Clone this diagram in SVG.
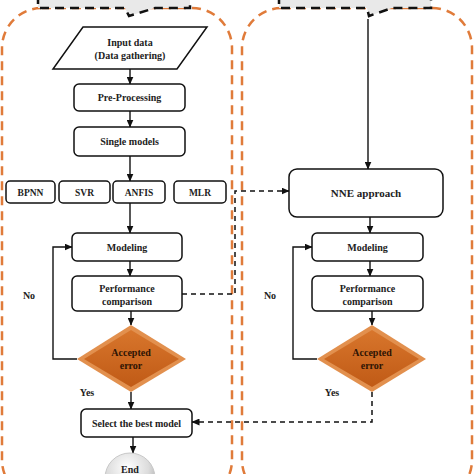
<svg xmlns="http://www.w3.org/2000/svg" width="474" height="474" viewBox="0 0 474 474">
<style>
.box{fill:#fff;stroke:#111;stroke-width:1.5}
.t{font-family:"Liberation Serif","Times New Roman",serif;font-weight:bold;font-size:10px;fill:#222;text-anchor:middle}
.dt{font-family:"Liberation Serif","Times New Roman",serif;font-weight:bold;font-size:10px;fill:#2e1404;text-anchor:middle}
.cont{fill:none;stroke:#E07B3A;stroke-width:2.5;stroke-dasharray:9 6}
.callout{fill:#e9e9e9;stroke:#111;stroke-width:2.5;stroke-dasharray:9 6}
.line{fill:none;stroke:#111;stroke-width:1.4}
.dash{fill:none;stroke:#111;stroke-width:1.5;stroke-dasharray:5 4}
</style>
<defs>
<marker id="arr" markerWidth="8" markerHeight="7" refX="7.5" refY="3.5" orient="auto" markerUnits="userSpaceOnUse">
<path d="M0,0 L8,3.5 L0,7 z" fill="#111"/>
</marker>
<linearGradient id="dia" x1="0" y1="0" x2="0" y2="1">
<stop offset="0" stop-color="#D8762C"/>
<stop offset="1" stop-color="#C05A16"/>
</linearGradient>
<radialGradient id="sph" cx="0.45" cy="0.3" r="0.7">
<stop offset="0" stop-color="#ffffff"/>
<stop offset="0.6" stop-color="#dcdcdc"/>
<stop offset="1" stop-color="#a9a9a9"/>
</radialGradient>
</defs>

<g id="containers">
<rect class="cont" x="2" y="8" width="230" height="492" rx="40"/>
<rect class="cont" x="242" y="8" width="230" height="492" rx="40"/>
</g>

<g id="callouts">
<path class="callout" d="M38,-20 V8 H125 L129,16 L155,8 H190 V-20"/>
<path class="callout" d="M279,-20 V8 H367 L369,16 L392,8 H431 V-20"/>
</g>

<g id="connectors">
<line class="line" x1="130" y1="69" x2="130" y2="84" marker-end="url(#arr)"/>
<line class="line" x1="130" y1="111" x2="130" y2="127" marker-end="url(#arr)"/>
<line class="line" x1="130" y1="156" x2="130" y2="181" marker-end="url(#arr)"/>
<line class="line" x1="130" y1="203" x2="130" y2="233" marker-end="url(#arr)"/>
<line class="line" x1="130" y1="261" x2="130" y2="276" marker-end="url(#arr)"/>
<line class="line" x1="131" y1="311" x2="131" y2="325" marker-end="url(#arr)"/>
<polyline class="line" points="77,359 53,359 53,247 72,247" marker-end="url(#arr)"/>
<line class="line" x1="131" y1="392" x2="131" y2="409" marker-end="url(#arr)"/>
<line class="line" x1="133" y1="437" x2="133" y2="453" marker-end="url(#arr)"/>
<line class="line" x1="368" y1="19" x2="368" y2="169" marker-end="url(#arr)"/>
<line class="line" x1="370" y1="217" x2="370" y2="233" marker-end="url(#arr)"/>
<line class="line" x1="370" y1="261" x2="370" y2="276" marker-end="url(#arr)"/>
<line class="line" x1="372" y1="311" x2="372" y2="325" marker-end="url(#arr)"/>
<polyline class="line" points="317,359 293,359 293,247 312,247" marker-end="url(#arr)"/>
<polyline class="dash" points="182,294 235,294 235,191 289,191" marker-end="url(#arr)"/>
<polyline class="dash" points="372,392 372,422 192,422" marker-end="url(#arr)"/>
</g>

<g id="input">
<polygon class="box" points="83,27 207,27 177,69 53,69"/>
<text class="t" x="130" y="45.5">Input data</text>
<text class="t" x="130" y="58.5">(Data gathering)</text>
</g>
<g id="preprocessing">
<rect class="box" x="74" y="84" width="111" height="27" rx="5"/>
<text class="t" x="129.5" y="101">Pre-Processing</text>
</g>
<g id="singlemodels">
<rect class="box" x="74" y="127" width="111" height="29" rx="5"/>
<text class="t" x="129.5" y="144.5">Single models</text>
</g>
<g id="bpnn">
<rect class="box" x="6" y="181" width="49" height="22" rx="4"/>
<text class="t" x="30.5" y="195.5" style="font-size:9.5px">BPNN</text>
</g>
<g id="svr">
<rect class="box" x="59" y="181" width="51" height="22" rx="4"/>
<text class="t" x="84.5" y="195.5" style="font-size:9.5px">SVR</text>
</g>
<g id="anfis">
<rect class="box" x="113" y="181" width="52" height="22" rx="4"/>
<text class="t" x="139" y="195.5" style="font-size:9.5px">ANFIS</text>
</g>
<g id="mlr">
<rect class="box" x="174" y="181" width="52" height="22" rx="4"/>
<text class="t" x="200" y="195.5" style="font-size:9.5px">MLR</text>
</g>
<g id="modeling1">
<rect class="box" x="72" y="233" width="110" height="28" rx="5"/>
<text class="t" x="127" y="250.5">Modeling</text>
</g>
<g id="perf1">
<rect class="box" x="72" y="276" width="110" height="35" rx="5"/>
<text class="t" x="127" y="291.5">Performance</text>
<text class="t" x="127" y="304.5">comparison</text>
</g>
<g id="decision1">
<polygon points="131,325 186,359 131,392 77,359" fill="#E2904E"/>
<polygon points="131,330 179,359 131,387 84,359" fill="url(#dia)"/>
<text class="dt" x="131" y="356">Accepted</text>
<text class="dt" x="131" y="369">error</text>
</g>
<g id="select">
<rect class="box" x="81" y="409" width="111" height="28" rx="5"/>
<text class="t" x="136.5" y="426.5">Select the best model</text>
</g>
<g id="end">
<circle cx="130" cy="478" r="25" fill="url(#sph)" stroke="#c8c8c8" stroke-width="1"/>
<text class="t" x="130" y="473">End</text>
</g>

<g id="nne">
<rect class="box" x="289" y="169" width="154" height="48" rx="8"/>
<text class="t" x="366" y="197" style="font-size:11px">NNE approach</text>
</g>
<g id="modeling2">
<rect class="box" x="312" y="233" width="111" height="28" rx="5"/>
<text class="t" x="367.5" y="250.5">Modeling</text>
</g>
<g id="perf2">
<rect class="box" x="312" y="276" width="111" height="35" rx="5"/>
<text class="t" x="367.5" y="291.5">Performance</text>
<text class="t" x="367.5" y="304.5">comparison</text>
</g>
<g id="decision2">
<polygon points="372,325 426,359 372,392 317,359" fill="#E2904E"/>
<polygon points="372,330 419,359 372,387 324,359" fill="url(#dia)"/>
<text class="dt" x="372" y="356">Accepted</text>
<text class="dt" x="372" y="369">error</text>
</g>

<g id="labels">
<text class="t" x="29" y="299">No</text>
<text class="t" x="87" y="396">Yes</text>
<text class="t" x="270" y="299">No</text>
<text class="t" x="332" y="396">Yes</text>
</g>
</svg>
